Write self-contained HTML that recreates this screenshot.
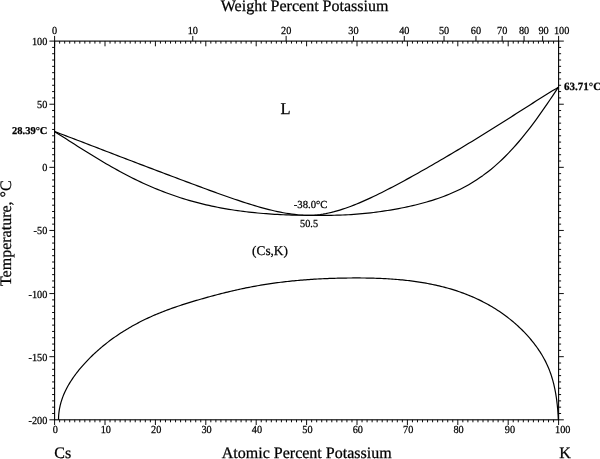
<!DOCTYPE html>
<html lang="en"><head><meta charset="utf-8"><title>Cs-K Phase Diagram</title>
<style>html,body{margin:0;padding:0;background:#fff}svg{display:block}</style></head>
<body>
<svg width="600" height="459" viewBox="0 0 600 459">
<rect width="600" height="459" fill="#fff"/>
<g stroke="#000" fill="none" stroke-linecap="butt">
<rect x="54.6" y="41.1" width="504" height="378.7" stroke-width="1.1"/>
<path stroke-width="0.95" d="M54.6 419.8 v5.2 M54.6 41.1 v5.2 M59.64 419.8 v2.5 M59.64 41.1 v2.5 M64.68 419.8 v2.5 M64.68 41.1 v2.5 M69.72 419.8 v2.5 M69.72 41.1 v2.5 M74.76 419.8 v2.5 M74.76 41.1 v2.5 M79.8 419.8 v2.5 M79.8 41.1 v2.5 M84.84 419.8 v2.5 M84.84 41.1 v2.5 M89.88 419.8 v2.5 M89.88 41.1 v2.5 M94.92 419.8 v2.5 M94.92 41.1 v2.5 M99.96 419.8 v2.5 M99.96 41.1 v2.5 M105 419.8 v5.2 M105 41.1 v5.2 M110.04 419.8 v2.5 M110.04 41.1 v2.5 M115.08 419.8 v2.5 M115.08 41.1 v2.5 M120.12 419.8 v2.5 M120.12 41.1 v2.5 M125.16 419.8 v2.5 M125.16 41.1 v2.5 M130.2 419.8 v2.5 M130.2 41.1 v2.5 M135.24 419.8 v2.5 M135.24 41.1 v2.5 M140.28 419.8 v2.5 M140.28 41.1 v2.5 M145.32 419.8 v2.5 M145.32 41.1 v2.5 M150.36 419.8 v2.5 M150.36 41.1 v2.5 M155.4 419.8 v5.2 M155.4 41.1 v5.2 M160.44 419.8 v2.5 M160.44 41.1 v2.5 M165.48 419.8 v2.5 M165.48 41.1 v2.5 M170.52 419.8 v2.5 M170.52 41.1 v2.5 M175.56 419.8 v2.5 M175.56 41.1 v2.5 M180.6 419.8 v2.5 M180.6 41.1 v2.5 M185.64 419.8 v2.5 M185.64 41.1 v2.5 M190.68 419.8 v2.5 M190.68 41.1 v2.5 M195.72 419.8 v2.5 M195.72 41.1 v2.5 M200.76 419.8 v2.5 M200.76 41.1 v2.5 M205.8 419.8 v5.2 M205.8 41.1 v5.2 M210.84 419.8 v2.5 M210.84 41.1 v2.5 M215.88 419.8 v2.5 M215.88 41.1 v2.5 M220.92 419.8 v2.5 M220.92 41.1 v2.5 M225.96 419.8 v2.5 M225.96 41.1 v2.5 M231 419.8 v2.5 M231 41.1 v2.5 M236.04 419.8 v2.5 M236.04 41.1 v2.5 M241.08 419.8 v2.5 M241.08 41.1 v2.5 M246.12 419.8 v2.5 M246.12 41.1 v2.5 M251.16 419.8 v2.5 M251.16 41.1 v2.5 M256.2 419.8 v5.2 M256.2 41.1 v5.2 M261.24 419.8 v2.5 M261.24 41.1 v2.5 M266.28 419.8 v2.5 M266.28 41.1 v2.5 M271.32 419.8 v2.5 M271.32 41.1 v2.5 M276.36 419.8 v2.5 M276.36 41.1 v2.5 M281.4 419.8 v2.5 M281.4 41.1 v2.5 M286.44 419.8 v2.5 M286.44 41.1 v2.5 M291.48 419.8 v2.5 M291.48 41.1 v2.5 M296.52 419.8 v2.5 M296.52 41.1 v2.5 M301.56 419.8 v2.5 M301.56 41.1 v2.5 M306.6 419.8 v5.2 M306.6 41.1 v5.2 M311.64 419.8 v2.5 M311.64 41.1 v2.5 M316.68 419.8 v2.5 M316.68 41.1 v2.5 M321.72 419.8 v2.5 M321.72 41.1 v2.5 M326.76 419.8 v2.5 M326.76 41.1 v2.5 M331.8 419.8 v2.5 M331.8 41.1 v2.5 M336.84 419.8 v2.5 M336.84 41.1 v2.5 M341.88 419.8 v2.5 M341.88 41.1 v2.5 M346.92 419.8 v2.5 M346.92 41.1 v2.5 M351.96 419.8 v2.5 M351.96 41.1 v2.5 M357 419.8 v5.2 M357 41.1 v5.2 M362.04 419.8 v2.5 M362.04 41.1 v2.5 M367.08 419.8 v2.5 M367.08 41.1 v2.5 M372.12 419.8 v2.5 M372.12 41.1 v2.5 M377.16 419.8 v2.5 M377.16 41.1 v2.5 M382.2 419.8 v2.5 M382.2 41.1 v2.5 M387.24 419.8 v2.5 M387.24 41.1 v2.5 M392.28 419.8 v2.5 M392.28 41.1 v2.5 M397.32 419.8 v2.5 M397.32 41.1 v2.5 M402.36 419.8 v2.5 M402.36 41.1 v2.5 M407.4 419.8 v5.2 M407.4 41.1 v5.2 M412.44 419.8 v2.5 M412.44 41.1 v2.5 M417.48 419.8 v2.5 M417.48 41.1 v2.5 M422.52 419.8 v2.5 M422.52 41.1 v2.5 M427.56 419.8 v2.5 M427.56 41.1 v2.5 M432.6 419.8 v2.5 M432.6 41.1 v2.5 M437.64 419.8 v2.5 M437.64 41.1 v2.5 M442.68 419.8 v2.5 M442.68 41.1 v2.5 M447.72 419.8 v2.5 M447.72 41.1 v2.5 M452.76 419.8 v2.5 M452.76 41.1 v2.5 M457.8 419.8 v5.2 M457.8 41.1 v5.2 M462.84 419.8 v2.5 M462.84 41.1 v2.5 M467.88 419.8 v2.5 M467.88 41.1 v2.5 M472.92 419.8 v2.5 M472.92 41.1 v2.5 M477.96 419.8 v2.5 M477.96 41.1 v2.5 M483 419.8 v2.5 M483 41.1 v2.5 M488.04 419.8 v2.5 M488.04 41.1 v2.5 M493.08 419.8 v2.5 M493.08 41.1 v2.5 M498.12 419.8 v2.5 M498.12 41.1 v2.5 M503.16 419.8 v2.5 M503.16 41.1 v2.5 M508.2 419.8 v5.2 M508.2 41.1 v5.2 M513.24 419.8 v2.5 M513.24 41.1 v2.5 M518.28 419.8 v2.5 M518.28 41.1 v2.5 M523.32 419.8 v2.5 M523.32 41.1 v2.5 M528.36 419.8 v2.5 M528.36 41.1 v2.5 M533.4 419.8 v2.5 M533.4 41.1 v2.5 M538.44 419.8 v2.5 M538.44 41.1 v2.5 M543.48 419.8 v2.5 M543.48 41.1 v2.5 M548.52 419.8 v2.5 M548.52 41.1 v2.5 M553.56 419.8 v2.5 M553.56 41.1 v2.5 M558.6 419.8 v5.2 M558.6 41.1 v5.2 M54.6 419.8 h-5.2 M558.6 419.8 h5.2 M54.6 413.49 h-2.5 M558.6 413.49 h2.5 M54.6 407.18 h-2.5 M558.6 407.18 h2.5 M54.6 400.87 h-2.5 M558.6 400.87 h2.5 M54.6 394.55 h-2.5 M558.6 394.55 h2.5 M54.6 388.24 h-2.5 M558.6 388.24 h2.5 M54.6 381.93 h-2.5 M558.6 381.93 h2.5 M54.6 375.62 h-2.5 M558.6 375.62 h2.5 M54.6 369.31 h-2.5 M558.6 369.31 h2.5 M54.6 363 h-2.5 M558.6 363 h2.5 M54.6 356.68 h-5.2 M558.6 356.68 h5.2 M54.6 350.37 h-2.5 M558.6 350.37 h2.5 M54.6 344.06 h-2.5 M558.6 344.06 h2.5 M54.6 337.75 h-2.5 M558.6 337.75 h2.5 M54.6 331.44 h-2.5 M558.6 331.44 h2.5 M54.6 325.12 h-2.5 M558.6 325.12 h2.5 M54.6 318.81 h-2.5 M558.6 318.81 h2.5 M54.6 312.5 h-2.5 M558.6 312.5 h2.5 M54.6 306.19 h-2.5 M558.6 306.19 h2.5 M54.6 299.88 h-2.5 M558.6 299.88 h2.5 M54.6 293.57 h-5.2 M558.6 293.57 h5.2 M54.6 287.25 h-2.5 M558.6 287.25 h2.5 M54.6 280.94 h-2.5 M558.6 280.94 h2.5 M54.6 274.63 h-2.5 M558.6 274.63 h2.5 M54.6 268.32 h-2.5 M558.6 268.32 h2.5 M54.6 262.01 h-2.5 M558.6 262.01 h2.5 M54.6 255.7 h-2.5 M558.6 255.7 h2.5 M54.6 249.38 h-2.5 M558.6 249.38 h2.5 M54.6 243.07 h-2.5 M558.6 243.07 h2.5 M54.6 236.76 h-2.5 M558.6 236.76 h2.5 M54.6 230.45 h-5.2 M558.6 230.45 h5.2 M54.6 224.14 h-2.5 M558.6 224.14 h2.5 M54.6 217.83 h-2.5 M558.6 217.83 h2.5 M54.6 211.51 h-2.5 M558.6 211.51 h2.5 M54.6 205.2 h-2.5 M558.6 205.2 h2.5 M54.6 198.89 h-2.5 M558.6 198.89 h2.5 M54.6 192.58 h-2.5 M558.6 192.58 h2.5 M54.6 186.27 h-2.5 M558.6 186.27 h2.5 M54.6 179.96 h-2.5 M558.6 179.96 h2.5 M54.6 173.64 h-2.5 M558.6 173.64 h2.5 M54.6 167.33 h-5.2 M558.6 167.33 h5.2 M54.6 161.02 h-2.5 M558.6 161.02 h2.5 M54.6 154.71 h-2.5 M558.6 154.71 h2.5 M54.6 148.4 h-2.5 M558.6 148.4 h2.5 M54.6 142.09 h-2.5 M558.6 142.09 h2.5 M54.6 135.78 h-2.5 M558.6 135.78 h2.5 M54.6 129.46 h-2.5 M558.6 129.46 h2.5 M54.6 123.15 h-2.5 M558.6 123.15 h2.5 M54.6 116.84 h-2.5 M558.6 116.84 h2.5 M54.6 110.53 h-2.5 M558.6 110.53 h2.5 M54.6 104.22 h-5.2 M558.6 104.22 h5.2 M54.6 97.91 h-2.5 M558.6 97.91 h2.5 M54.6 91.59 h-2.5 M558.6 91.59 h2.5 M54.6 85.28 h-2.5 M558.6 85.28 h2.5 M54.6 78.97 h-2.5 M558.6 78.97 h2.5 M54.6 72.66 h-2.5 M558.6 72.66 h2.5 M54.6 66.35 h-2.5 M558.6 66.35 h2.5 M54.6 60.03 h-2.5 M558.6 60.03 h2.5 M54.6 53.72 h-2.5 M558.6 53.72 h2.5 M54.6 47.41 h-2.5 M558.6 47.41 h2.5 M54.6 41.1 h-5.2 M558.6 41.1 h5.2 M54.6 41.1 v-5.2 M192.77 41.1 v-5.2 M286.14 41.1 v-5.2 M353.46 41.1 v-5.2 M404.29 41.1 v-5.2 M444.04 41.1 v-5.2 M475.96 41.1 v-5.2 M502.17 41.1 v-5.2 M524.07 41.1 v-5.2 M542.65 41.1 v-5.2 M558.6 41.1 v-5.2"/>
</g>
<g stroke="#000" stroke-width="1.2" fill="none" stroke-linejoin="round">
<path d="M54.6 131.6 L57.46 132.65 L60.32 133.71 L63.18 134.78 L66.03 135.86 L68.89 136.94 L71.75 138.02 L74.61 139.11 L77.47 140.2 L80.33 141.3 L83.18 142.4 L86.04 143.49 L88.9 144.59 L91.76 145.7 L94.62 146.8 L97.48 147.9 L100.33 149 L103.19 150.1 L106.05 151.2 L108.91 152.3 L111.77 153.4 L114.63 154.5 L117.49 155.6 L120.34 156.69 L123.2 157.79 L126.06 158.88 L128.92 159.97 L131.78 161.06 L134.64 162.15 L137.49 163.24 L140.35 164.33 L143.21 165.41 L146.07 166.5 L148.93 167.58 L151.79 168.67 L154.64 169.75 L157.5 170.83 L160.36 171.91 L163.22 172.99 L166.08 174.07 L168.94 175.15 L171.8 176.23 L174.65 177.3 L177.51 178.38 L180.37 179.45 L183.23 180.52 L186.09 181.59 L188.95 182.66 L191.8 183.73 L194.66 184.79 L197.52 185.86 L200.38 186.92 L203.24 187.97 L206.1 189.03 L208.96 190.07 L211.81 191.12 L214.67 192.15 L217.53 193.19 L220.39 194.21 L223.25 195.23 L226.11 196.24 L228.96 197.24 L231.82 198.23 L234.68 199.21 L237.54 200.17 L240.4 201.13 L243.26 202.06 L246.11 202.99 L248.97 203.89 L251.83 204.78 L254.69 205.64 L257.55 206.48 L260.41 207.3 L263.27 208.09 L266.12 208.86 L268.98 209.59 L271.84 210.29 L274.7 210.96 L277.56 211.59 L280.42 212.18 L283.27 212.73 L286.13 213.23 L288.99 213.69 L291.85 214.1 L294.71 214.45 L297.57 214.75 L300.42 214.98 L303.28 215.16 L306.14 215.26 L309 215.3"/>
<path d="M558.4 87.2 L555.6 88.89 L552.8 90.59 L549.99 92.32 L547.19 94.05 L544.39 95.8 L541.59 97.56 L538.78 99.32 L535.98 101.09 L533.18 102.87 L530.38 104.65 L527.58 106.44 L524.77 108.23 L521.97 110.02 L519.17 111.8 L516.37 113.59 L513.56 115.38 L510.76 117.16 L507.96 118.94 L505.16 120.72 L502.36 122.5 L499.55 124.27 L496.75 126.03 L493.95 127.79 L491.15 129.54 L488.34 131.29 L485.54 133.04 L482.74 134.77 L479.94 136.5 L477.13 138.23 L474.33 139.95 L471.53 141.66 L468.73 143.36 L465.93 145.06 L463.12 146.76 L460.32 148.44 L457.52 150.12 L454.72 151.79 L451.91 153.46 L449.11 155.12 L446.31 156.77 L443.51 158.42 L440.71 160.06 L437.9 161.69 L435.1 163.32 L432.3 164.94 L429.5 166.55 L426.69 168.16 L423.89 169.75 L421.09 171.34 L418.29 172.92 L415.49 174.49 L412.68 176.06 L409.88 177.61 L407.08 179.15 L404.28 180.68 L401.47 182.2 L398.67 183.71 L395.87 185.2 L393.07 186.68 L390.27 188.14 L387.46 189.59 L384.66 191.02 L381.86 192.43 L379.06 193.82 L376.25 195.19 L373.45 196.53 L370.65 197.85 L367.85 199.15 L365.04 200.41 L362.24 201.64 L359.44 202.84 L356.64 204 L353.84 205.12 L351.03 206.21 L348.23 207.25 L345.43 208.24 L342.63 209.18 L339.82 210.07 L337.02 210.9 L334.22 211.68 L331.42 212.39 L328.62 213.03 L325.81 213.61 L323.01 214.1 L320.21 214.52 L317.41 214.85 L314.6 215.1 L311.8 215.25 L309 215.3"/>
<path d="M54.6 131.6 L57.46 133.41 L60.32 135.22 L63.18 137.04 L66.03 138.87 L68.89 140.7 L71.75 142.52 L74.61 144.34 L77.47 146.16 L80.33 147.97 L83.18 149.77 L86.04 151.56 L88.9 153.34 L91.76 155.11 L94.62 156.86 L97.48 158.59 L100.33 160.31 L103.19 162 L106.05 163.68 L108.91 165.33 L111.77 166.96 L114.63 168.57 L117.49 170.15 L120.34 171.71 L123.2 173.24 L126.06 174.74 L128.92 176.22 L131.78 177.67 L134.64 179.09 L137.49 180.48 L140.35 181.84 L143.21 183.17 L146.07 184.47 L148.93 185.74 L151.79 186.98 L154.64 188.19 L157.5 189.37 L160.36 190.52 L163.22 191.64 L166.08 192.72 L168.94 193.78 L171.8 194.8 L174.65 195.8 L177.51 196.76 L180.37 197.7 L183.23 198.6 L186.09 199.48 L188.95 200.32 L191.8 201.14 L194.66 201.93 L197.52 202.69 L200.38 203.42 L203.24 204.13 L206.1 204.81 L208.96 205.46 L211.81 206.09 L214.67 206.69 L217.53 207.26 L220.39 207.81 L223.25 208.34 L226.11 208.84 L228.96 209.33 L231.82 209.78 L234.68 210.22 L237.54 210.63 L240.4 211.03 L243.26 211.4 L246.11 211.75 L248.97 212.09 L251.83 212.4 L254.69 212.7 L257.55 212.98 L260.41 213.24 L263.27 213.48 L266.12 213.71 L268.98 213.92 L271.84 214.11 L274.7 214.29 L277.56 214.45 L280.42 214.6 L283.27 214.74 L286.13 214.85 L288.99 214.96 L291.85 215.05 L294.71 215.13 L297.57 215.19 L300.42 215.24 L303.28 215.27 L306.14 215.29 L309 215.3"/>
<path d="M558.4 87.2 L555.6 91.41 L552.8 95.59 L549.99 99.75 L547.19 103.88 L544.39 107.95 L541.59 111.96 L538.78 115.91 L535.98 119.79 L533.18 123.59 L530.38 127.31 L527.58 130.94 L524.77 134.48 L521.97 137.92 L519.17 141.26 L516.37 144.51 L513.56 147.66 L510.76 150.7 L507.96 153.64 L505.16 156.48 L502.36 159.22 L499.55 161.86 L496.75 164.4 L493.95 166.84 L491.15 169.18 L488.34 171.42 L485.54 173.57 L482.74 175.64 L479.94 177.61 L477.13 179.5 L474.33 181.3 L471.53 183.02 L468.73 184.67 L465.93 186.24 L463.12 187.74 L460.32 189.17 L457.52 190.53 L454.72 191.83 L451.91 193.07 L449.11 194.26 L446.31 195.39 L443.51 196.46 L440.71 197.49 L437.9 198.48 L435.1 199.42 L432.3 200.32 L429.5 201.18 L426.69 202 L423.89 202.79 L421.09 203.54 L418.29 204.27 L415.49 204.96 L412.68 205.63 L409.88 206.26 L407.08 206.88 L404.28 207.47 L401.47 208.03 L398.67 208.57 L395.87 209.09 L393.07 209.59 L390.27 210.07 L387.46 210.53 L384.66 210.96 L381.86 211.38 L379.06 211.77 L376.25 212.15 L373.45 212.5 L370.65 212.83 L367.85 213.14 L365.04 213.44 L362.24 213.7 L359.44 213.95 L356.64 214.18 L353.84 214.38 L351.03 214.57 L348.23 214.73 L345.43 214.87 L342.63 214.99 L339.82 215.09 L337.02 215.17 L334.22 215.24 L331.42 215.28 L328.62 215.31 L325.81 215.33 L323.01 215.34 L320.21 215.33 L317.41 215.33 L314.6 215.31 L311.8 215.3 L309 215.3"/>
<path d="M58.52 419.8 L58.54 418.27 L58.59 416.76 L58.68 415.25 L58.81 413.76 L59 412.06 L59.23 410.38 L59.51 408.71 L59.84 407.05 L60.2 405.41 L60.61 403.78 L61.06 402.17 L61.54 400.57 L62.07 398.98 L62.63 397.41 L63.23 395.84 L63.86 394.3 L64.53 392.76 L65.23 391.24 L65.97 389.73 L66.73 388.24 L67.52 386.76 L68.34 385.29 L69.19 383.83 L70.07 382.39 L70.97 380.96 L71.9 379.55 L72.85 378.14 L73.82 376.75 L74.82 375.37 L75.83 374.01 L76.87 372.66 L77.92 371.32 L78.99 369.99 L80.07 368.68 L81.17 367.37 L82.29 366.09 L83.41 364.81 L84.55 363.55 L85.7 362.29 L86.87 361.05 L88.04 359.83 L89.23 358.61 L90.43 357.41 L91.63 356.22 L92.85 355.05 L94.08 353.88 L95.32 352.73 L96.57 351.59 L97.83 350.46 L99.11 349.34 L100.39 348.24 L101.68 347.15 L102.98 346.07 L104.29 345 L105.61 343.94 L106.94 342.9 L108.28 341.86 L109.62 340.84 L110.98 339.84 L112.34 338.84 L113.72 337.85 L115.1 336.88 L116.49 335.92 L117.88 334.97 L119.29 334.03 L120.7 333.1 L122.12 332.19 L123.55 331.28 L124.99 330.39 L126.43 329.51 L127.88 328.64 L129.34 327.78 L130.8 326.93 L132.27 326.1 L133.74 325.27 L135.23 324.46 L136.71 323.66 L138.21 322.87 L139.71 322.09 L141.21 321.32 L142.72 320.56 L144.24 319.81 L145.76 319.08 L147.29 318.35 L148.82 317.64 L150.35 316.94 L151.89 316.25 L153.44 315.57 L154.98 314.9 L156.54 314.24 L158.09 313.59 L159.65 312.95 L161.22 312.32 L162.79 311.7 L164.36 311.09 L165.93 310.49 L167.51 309.9 L169.09 309.32 L170.68 308.74 L172.27 308.18 L173.86 307.62 L175.46 307.06 L177.05 306.52 L178.65 305.98 L180.26 305.45 L181.86 304.93 L183.47 304.41 L185.08 303.9 L186.7 303.39 L188.31 302.89 L189.93 302.39 L191.55 301.9 L193.17 301.42 L194.8 300.93 L196.42 300.45 L198.05 299.98 L199.68 299.51 L201.31 299.04 L202.95 298.57 L204.58 298.11 L206.22 297.65 L207.85 297.19 L209.49 296.74 L211.13 296.29 L212.78 295.85 L214.42 295.41 L216.06 294.97 L217.71 294.54 L219.35 294.11 L221 293.69 L222.65 293.27 L224.3 292.86 L225.95 292.45 L227.6 292.05 L229.25 291.65 L230.91 291.25 L232.56 290.87 L234.22 290.48 L235.87 290.11 L237.53 289.73 L239.18 289.37 L240.84 289.01 L242.5 288.65 L244.15 288.31 L245.81 287.96 L247.47 287.63 L249.13 287.3 L250.79 286.98 L252.45 286.66 L254.1 286.35 L255.76 286.05 L257.42 285.76 L259.08 285.47 L260.74 285.18 L262.4 284.91 L264.07 284.64 L265.73 284.37 L267.39 284.12 L269.05 283.86 L270.71 283.62 L272.37 283.38 L274.04 283.15 L275.7 282.92 L277.36 282.7 L279.03 282.48 L280.69 282.27 L282.36 282.07 L284.03 281.87 L285.69 281.68 L287.36 281.49 L289.03 281.31 L290.69 281.13 L292.36 280.96 L294.03 280.79 L295.7 280.63 L297.37 280.48 L299.05 280.33 L300.72 280.18 L302.39 280.04 L304.06 279.91 L305.74 279.78 L307.41 279.66 L309.09 279.54 L310.77 279.42 L312.44 279.31 L314.12 279.21 L315.8 279.11 L317.48 279.01 L319.16 278.92 L320.84 278.83 L322.53 278.75 L324.21 278.67 L325.9 278.6 L327.58 278.53 L329.27 278.46 L330.96 278.4 L332.64 278.35 L334.33 278.29 L336.03 278.25 L337.72 278.2 L339.41 278.16 L341.1 278.12 L342.8 278.09 L344.5 278.06 L346.19 278.04 L347.89 278.02 L349.59 278 L351.29 277.98 L353 277.97 L354.7 277.97 L356.4 277.96 L358.11 277.96 L359.82 277.97 L361.52 277.98 L363.23 278 L364.94 278.01 L366.65 278.04 L368.35 278.07 L370.06 278.1 L371.77 278.14 L373.48 278.19 L375.19 278.24 L376.9 278.3 L378.61 278.36 L380.31 278.43 L382.02 278.51 L383.73 278.59 L385.44 278.68 L387.14 278.77 L388.85 278.88 L390.55 278.99 L392.25 279.1 L393.96 279.23 L395.66 279.36 L397.36 279.5 L399.05 279.65 L400.75 279.8 L402.45 279.96 L404.14 280.14 L405.83 280.32 L407.52 280.51 L409.21 280.7 L410.9 280.91 L412.58 281.12 L414.26 281.35 L415.94 281.58 L417.62 281.83 L419.29 282.08 L420.97 282.34 L422.64 282.62 L424.3 282.9 L425.97 283.19 L427.63 283.5 L429.29 283.81 L430.94 284.14 L432.59 284.47 L434.24 284.82 L435.89 285.18 L437.53 285.55 L439.17 285.93 L440.8 286.32 L442.43 286.73 L444.06 287.15 L445.68 287.58 L447.3 288.02 L448.91 288.47 L450.53 288.94 L452.13 289.42 L453.73 289.91 L455.33 290.41 L456.92 290.93 L458.51 291.46 L460.09 292.01 L461.67 292.57 L463.25 293.14 L464.81 293.73 L466.38 294.33 L467.93 294.94 L469.49 295.57 L471.03 296.21 L472.58 296.87 L474.11 297.55 L475.64 298.23 L477.17 298.94 L478.69 299.66 L480.2 300.39 L481.7 301.14 L483.21 301.91 L484.7 302.69 L486.19 303.49 L487.67 304.3 L489.14 305.13 L490.61 305.98 L492.07 306.84 L493.52 307.71 L494.96 308.6 L496.39 309.51 L497.82 310.43 L499.23 311.37 L500.64 312.32 L502.04 313.29 L503.42 314.27 L504.8 315.27 L506.17 316.28 L507.52 317.31 L508.86 318.35 L510.2 319.4 L511.52 320.47 L512.83 321.56 L514.12 322.66 L515.41 323.77 L516.68 324.9 L517.94 326.04 L519.18 327.19 L520.41 328.36 L521.63 329.54 L522.83 330.74 L524.02 331.95 L525.19 333.18 L526.35 334.41 L527.5 335.66 L528.62 336.93 L529.73 338.2 L530.83 339.5 L531.91 340.8 L532.97 342.12 L534.01 343.45 L535.04 344.79 L536.05 346.14 L537.04 347.51 L538.01 348.89 L538.96 350.29 L539.89 351.69 L540.79 353.11 L541.68 354.54 L542.54 355.99 L543.38 357.45 L544.19 358.92 L544.98 360.4 L545.74 361.89 L546.48 363.4 L547.19 364.92 L547.87 366.45 L548.53 367.99 L549.16 369.55 L549.76 371.11 L550.34 372.69 L550.89 374.28 L551.42 375.87 L551.92 377.47 L552.4 379.09 L552.86 380.71 L553.29 382.34 L553.71 383.97 L554.1 385.62 L554.47 387.27 L554.82 388.92 L555.15 390.58 L555.46 392.25 L555.76 393.92 L556.03 395.59 L556.29 397.27 L556.53 398.95 L556.75 400.63 L556.96 402.32 L557.16 404 L557.34 405.69 L557.5 407.38 L557.65 409.07 L557.79 410.75 L557.91 412.44 L558.03 414.13 L558.13 415.81 L558.22 417.5 L558.3 419.18 L558.33 419.8"/>
</g>
<g font-family="'Liberation Serif', 'Times New Roman', serif" fill="#000" stroke="#000" stroke-width="0.25" text-rendering="geometricPrecision">
<text x="304.6" y="11.2" font-size="16" text-anchor="middle">Weight Percent Potassium</text>
<text x="306.7" y="458" font-size="16" text-anchor="middle">Atomic Percent Potassium</text>
<text x="54.3" y="457.8" font-size="16">Cs</text>
<text x="559.2" y="457.8" font-size="16">K</text>
<text transform="translate(11.4,233.2) rotate(-90)" font-size="16" text-anchor="middle">Temperature, °C</text>
<g font-size="10.8">
<text x="54.6" y="33.8" text-anchor="middle" textLength="5.13" lengthAdjust="spacingAndGlyphs">0</text>
<text x="192.77" y="33.8" text-anchor="middle" textLength="10.26" lengthAdjust="spacingAndGlyphs">10</text>
<text x="286.14" y="33.8" text-anchor="middle" textLength="10.26" lengthAdjust="spacingAndGlyphs">20</text>
<text x="353.46" y="33.8" text-anchor="middle" textLength="10.26" lengthAdjust="spacingAndGlyphs">30</text>
<text x="404.29" y="33.8" text-anchor="middle" textLength="10.26" lengthAdjust="spacingAndGlyphs">40</text>
<text x="444.04" y="33.8" text-anchor="middle" textLength="10.26" lengthAdjust="spacingAndGlyphs">50</text>
<text x="475.96" y="33.8" text-anchor="middle" textLength="10.26" lengthAdjust="spacingAndGlyphs">60</text>
<text x="502.17" y="33.8" text-anchor="middle" textLength="10.26" lengthAdjust="spacingAndGlyphs">70</text>
<text x="524.07" y="33.8" text-anchor="middle" textLength="10.26" lengthAdjust="spacingAndGlyphs">80</text>
<text x="543.55" y="33.8" text-anchor="middle" textLength="10.26" lengthAdjust="spacingAndGlyphs">90</text>
<text x="561.6" y="33.8" text-anchor="middle" textLength="15.39" lengthAdjust="spacingAndGlyphs">100</text>
<text x="55.4" y="433.4" text-anchor="middle" textLength="5.13" lengthAdjust="spacingAndGlyphs">0</text>
<text x="105.8" y="433.4" text-anchor="middle" textLength="10.26" lengthAdjust="spacingAndGlyphs">10</text>
<text x="156.2" y="433.4" text-anchor="middle" textLength="10.26" lengthAdjust="spacingAndGlyphs">20</text>
<text x="206.6" y="433.4" text-anchor="middle" textLength="10.26" lengthAdjust="spacingAndGlyphs">30</text>
<text x="257" y="433.4" text-anchor="middle" textLength="10.26" lengthAdjust="spacingAndGlyphs">40</text>
<text x="307.4" y="433.4" text-anchor="middle" textLength="10.26" lengthAdjust="spacingAndGlyphs">50</text>
<text x="357.8" y="433.4" text-anchor="middle" textLength="10.26" lengthAdjust="spacingAndGlyphs">60</text>
<text x="408.2" y="433.4" text-anchor="middle" textLength="10.26" lengthAdjust="spacingAndGlyphs">70</text>
<text x="458.6" y="433.4" text-anchor="middle" textLength="10.26" lengthAdjust="spacingAndGlyphs">80</text>
<text x="510" y="433.4" text-anchor="middle" textLength="10.26" lengthAdjust="spacingAndGlyphs">90</text>
<text x="562.7" y="433.4" text-anchor="middle" textLength="15.39" lengthAdjust="spacingAndGlyphs">100</text>
<text x="47.3" y="423.8" text-anchor="end" textLength="18.81" lengthAdjust="spacingAndGlyphs">-200</text>
<text x="47.3" y="360.68" text-anchor="end" textLength="18.81" lengthAdjust="spacingAndGlyphs">-150</text>
<text x="47.3" y="297.57" text-anchor="end" textLength="18.81" lengthAdjust="spacingAndGlyphs">-100</text>
<text x="47.3" y="234.45" text-anchor="end" textLength="13.68" lengthAdjust="spacingAndGlyphs">-50</text>
<text x="47.3" y="171.33" text-anchor="end" textLength="5.13" lengthAdjust="spacingAndGlyphs">0</text>
<text x="47.3" y="108.22" text-anchor="end" textLength="10.26" lengthAdjust="spacingAndGlyphs">50</text>
<text x="47.3" y="45.1" text-anchor="end" textLength="15.39" lengthAdjust="spacingAndGlyphs">100</text>
<text x="310.6" y="207.5" text-anchor="middle" textLength="33.68" lengthAdjust="spacingAndGlyphs">-38.0°C</text>
<text x="309.1" y="226.8" text-anchor="middle" textLength="17.96" lengthAdjust="spacingAndGlyphs">50.5</text>
</g>
<text x="12" y="133.7" font-size="10.5" font-weight="bold">28.39°C</text>
<text x="564" y="90.4" font-size="11" font-weight="bold">63.71°C</text>
<text x="280.6" y="114.4" font-size="16.5">L</text>
<text x="270" y="254.6" font-size="13.3" text-anchor="middle">(Cs,K)</text>
</g>
</svg>
</body></html>
